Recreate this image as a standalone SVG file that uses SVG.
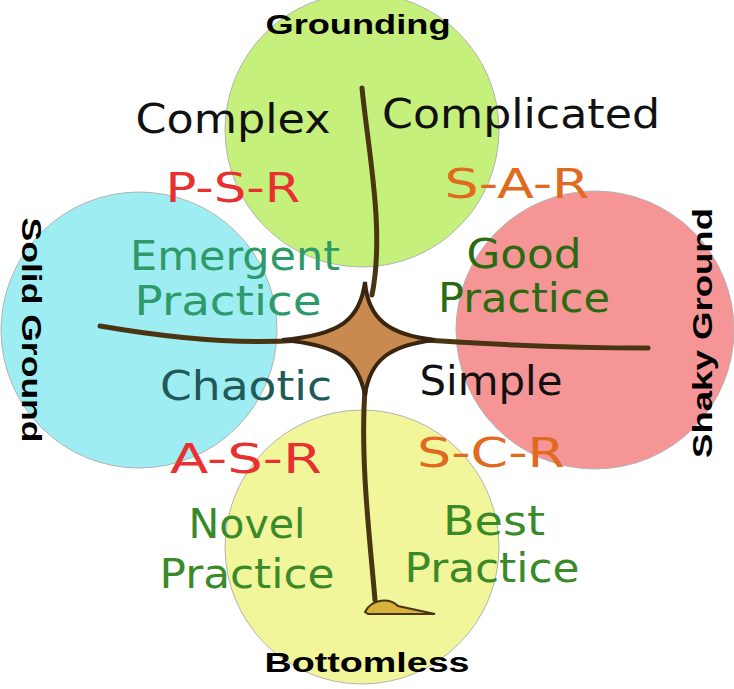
<svg xmlns="http://www.w3.org/2000/svg" width="734" height="689" viewBox="0 0 734 689">
<style>
.c{font-family:"DejaVu Sans","Liberation Sans",sans-serif;font-size:40px;text-anchor:middle}
.b{font-family:"Liberation Sans",sans-serif;font-weight:bold;font-size:28px;text-anchor:middle;fill:#000}
.ln{fill:none;stroke:#4a3512;stroke-width:5;stroke-linecap:round}
</style>
<rect width="734" height="689" fill="#fff"/>
<g id="circles" stroke="#999" stroke-width="1" opacity="0.75">
<circle id="top" cx="362" cy="130" r="137" fill="#b2ec4f"/>
<circle id="left" cx="139" cy="330" r="138" fill="#7ee8ef"/>
<circle id="right" cx="595" cy="330" r="139" fill="#f47272"/>
<circle id="bottom" cx="362" cy="547" r="137" fill="#eef47a"/>
</g>
<g id="lines">
<path class="ln" d="M362,88 C368,150 385,230 372,295"/>
<path class="ln" d="M100,326 C170,338 240,345 300,340"/>
<path class="ln" d="M425,340 C500,345 580,348 648,348"/>
<path class="ln" d="M365,390 C360,460 370,540 375,600"/>
<path d="M365,612 C372,598 390,598 398,606 L435,614 L368,614 Z" fill="#d8b23a" stroke="#4a3512" stroke-width="2"/>
<path d="M365,282 C368,320 390,335 435,340 C390,345 370,360 365,395 C358,360 340,345 282,340 C340,335 360,320 365,282 Z" fill="#c98a50" stroke="#3a2610" stroke-width="4"/>
</g>
<g id="labels">
<text class="b" x="358" y="34" textLength="185" lengthAdjust="spacingAndGlyphs">Grounding</text>
<text class="b" x="367" y="672" textLength="205" lengthAdjust="spacingAndGlyphs">Bottomless</text>
<text class="b" transform="translate(22,330) rotate(90)" textLength="225" lengthAdjust="spacingAndGlyphs">Solid Ground</text>
<text class="b" transform="translate(712,333) rotate(-90)" textLength="250" lengthAdjust="spacingAndGlyphs">Shaky Ground</text>
<text class="c" x="233" y="133" fill="#111" textLength="195" lengthAdjust="spacingAndGlyphs">Complex</text>
<text class="c" x="521" y="128" fill="#111" textLength="278" lengthAdjust="spacingAndGlyphs">Complicated</text>
<text class="c" x="233" y="202" fill="#e83030" textLength="135" lengthAdjust="spacingAndGlyphs">P-S-R</text>
<text class="c" x="517" y="198" fill="#e06a20" textLength="145" lengthAdjust="spacingAndGlyphs">S-A-R</text>
<text class="c" x="235" y="270" fill="#2e9a6a" textLength="210" lengthAdjust="spacingAndGlyphs">Emergent</text>
<text class="c" x="228" y="315" fill="#2e9a6a" textLength="187" lengthAdjust="spacingAndGlyphs">Practice</text>
<text class="c" x="524" y="268" fill="#2a6a10" textLength="115" lengthAdjust="spacingAndGlyphs">Good</text>
<text class="c" x="524" y="312" fill="#2a6a10" textLength="172" lengthAdjust="spacingAndGlyphs">Practice</text>
<text class="c" x="246" y="400" fill="#1f5a58" textLength="172" lengthAdjust="spacingAndGlyphs">Chaotic</text>
<text class="c" x="491" y="395" fill="#111" textLength="143" lengthAdjust="spacingAndGlyphs">Simple</text>
<text class="c" x="246" y="473" fill="#e83030" textLength="152" lengthAdjust="spacingAndGlyphs">A-S-R</text>
<text class="c" x="491" y="467" fill="#e06a20" textLength="148" lengthAdjust="spacingAndGlyphs">S-C-R</text>
<text class="c" x="247" y="538" fill="#3a8a2a" textLength="117" lengthAdjust="spacingAndGlyphs">Novel</text>
<text class="c" x="247" y="588" fill="#3a8a2a" textLength="175" lengthAdjust="spacingAndGlyphs">Practice</text>
<text class="c" x="494" y="535" fill="#3a8a2a" textLength="102" lengthAdjust="spacingAndGlyphs">Best</text>
<text class="c" x="492" y="582" fill="#3a8a2a" textLength="175" lengthAdjust="spacingAndGlyphs">Practice</text>
</g>
</svg>
